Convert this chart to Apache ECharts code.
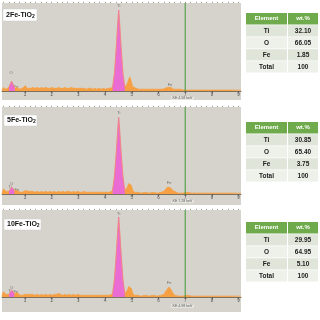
<!DOCTYPE html>
<html><head><meta charset="utf-8">
<script src="https://cdn.jsdelivr.net/npm/echarts@6/dist/echarts.min.js"></script>
<style>html,body{margin:0;padding:0;background:#fff}#c{width:320px;height:320px}</style>
</head><body><div id="c"></div><script>
// ---- data ----
const sampleNames = ['2Fe-TiO', '5Fe-TiO', '10Fe-TiO'];
const sampleSub = '2';
const elements = ['Ti', 'O', 'Fe', 'Total'];
const tableHeader = ['Element', 'wt.%'];
const wt1 = ['32.10', '66.05', '1.85', '100'];
const wt2 = ['30.85', '65.40', '3.75', '100'];
const wt3 = ['29.95', '64.95', '5.10', '100'];
const tickKeV = [1, 2, 3, 4, 5, 6, 7, 8, 9];
const markerKeV = 7;
const markerText = ['KE 4.58 keV', 'KE 7.28 keV', 'KE 4.98 keV'];
const oRange = [0.40, 0.62];
const tiRange = [4.28, 4.74];
// spectra: [energy keV, counts (arb.)]
const spec1 = [[0.14,1],[0.2,4],[0.24,5],[0.28,2],[0.34,2],[0.4,4],[0.45,8],[0.5,11],[0.54,10],[0.58,6],[0.62,3],[0.67,3],[0.71,4],[0.76,2],[0.82,2],[0.9,3],[0.96,5],[1.02,6],[1.08,3],[1.15,4],[1.22,3],[1.3,4],[1.38,3],[1.46,4],[1.54,3],[1.62,4],[1.7,3],[1.78,4],[1.86,3],[1.94,3],[2.02,4],[2.1,3],[2.18,3],[2.26,4],[2.34,3],[2.42,3],[2.5,4],[2.58,3],[2.66,3],[2.74,4],[2.82,3],[2.9,3],[2.98,3],[3.06,3],[3.14,3],[3.22,3],[3.3,2],[3.38,3],[3.46,3],[3.54,2],[3.62,3],[3.7,2],[3.78,3],[3.86,2],[3.94,3],[4.02,2],[4.1,3],[4.18,3],[4.24,3],[4.28,4],[4.35,20],[4.42,50],[4.47,75],[4.51,92],[4.55,75],[4.6,50],[4.67,20],[4.74,4],[4.79,5],[4.84,9],[4.88,13],[4.93,16],[4.98,11],[5.03,5],[5.08,3],[5.16,3],[5.25,2],[5.35,2],[5.45,2],[5.55,2],[5.65,2],[5.75,2],[5.85,2],[5.95,2],[6.05,2],[6.15,2],[6.25,3],[6.33,4],[6.4,5],[6.47,4],[6.55,2],[6.65,2],[6.8,2],[6.95,1],[7.1,1],[7.3,1],[7.5,1],[7.8,1],[8.1,1],[8.4,1],[8.7,1],[9.09,1]];
const spec2 = [[0.14,1],[0.2,6],[0.24,7],[0.28,3],[0.34,2],[0.4,3],[0.45,5],[0.5,8],[0.55,7],[0.6,4],[0.65,2],[0.7,4],[0.75,3],[0.82,2],[0.9,2],[0.96,3],[1.02,4],[1.08,2],[1.15,3],[1.22,2],[1.3,3],[1.38,2],[1.46,3],[1.54,2],[1.62,3],[1.7,2],[1.78,3],[1.86,2],[1.94,3],[2.02,2],[2.1,3],[2.18,2],[2.26,3],[2.34,2],[2.42,3],[2.5,2],[2.58,3],[2.66,3],[2.74,2],[2.82,3],[2.9,2],[2.98,3],[3.06,2],[3.14,2],[3.22,3],[3.3,2],[3.38,2],[3.46,2],[3.54,2],[3.62,2],[3.7,2],[3.78,2],[3.86,2],[3.94,2],[4.02,2],[4.1,2],[4.18,2],[4.24,3],[4.28,4],[4.35,20],[4.42,48],[4.47,72],[4.51,88],[4.55,72],[4.6,48],[4.67,20],[4.74,4],[4.79,4],[4.84,8],[4.88,12],[4.93,14],[4.98,10],[5.03,5],[5.08,2],[5.2,2],[5.35,1],[5.5,2],[5.65,1],[5.8,2],[5.95,1],[6.1,2],[6.2,3],[6.27,5],[6.34,8],[6.4,9],[6.46,7],[6.53,4],[6.6,2],[6.75,1],[6.9,1],[7.05,2],[7.12,2],[7.25,1],[7.5,1],[7.8,1],[8.1,1],[8.4,1],[8.7,1],[9.09,1]];
const spec3 = [[0.14,1],[0.19,6],[0.24,8],[0.29,3],[0.34,2],[0.4,3],[0.45,5],[0.5,8],[0.55,7],[0.6,4],[0.65,3],[0.7,5],[0.75,3],[0.82,2],[0.9,2],[0.96,3],[1.02,3],[1.08,2],[1.15,3],[1.22,2],[1.3,3],[1.38,2],[1.46,3],[1.54,2],[1.62,3],[1.7,2],[1.78,3],[1.86,2],[1.94,3],[2.02,2],[2.1,3],[2.18,3],[2.26,4],[2.34,3],[2.42,2],[2.5,3],[2.58,2],[2.66,3],[2.74,2],[2.82,3],[2.9,2],[2.98,3],[3.06,2],[3.14,2],[3.22,2],[3.3,2],[3.38,2],[3.46,2],[3.54,2],[3.62,2],[3.7,2],[3.78,2],[3.86,2],[3.94,2],[4.02,2],[4.1,2],[4.18,2],[4.24,3],[4.28,4],[4.35,20],[4.42,50],[4.47,74],[4.51,92],[4.55,74],[4.6,50],[4.67,20],[4.74,4],[4.79,4],[4.84,8],[4.88,12],[4.93,14],[4.98,10],[5.03,5],[5.08,2],[5.2,2],[5.35,1],[5.5,2],[5.65,1],[5.8,2],[5.95,1],[6.1,2],[6.2,3],[6.26,6],[6.33,9],[6.4,11.5],[6.46,9],[6.53,5],[6.6,2],[6.75,1],[6.9,1],[7.05,2],[7.12,2],[7.25,1],[7.5,1],[7.8,1],[8.1,1],[8.4,1],[8.7,1],[9.09,1]];
const tagNames1 = ['O', 'Fe', 'Ti', 'Fe'];
const tagKeV1 = [0.48, 0.66, 4.51, 6.43];
const tagLevel1 = [21, 4.5, 97, 7];
const tagNames2 = ['O', 'Ti', 'Fe', 'Ti', 'Fe'];
const tagKeV2 = [0.51, 0.44, 0.70, 4.51, 6.40];
const tagLevel2 = [12, 8, 4.6, 93, 13];
const tagNames3 = ['O', 'Ti', 'Fe', 'Ti', 'Fe'];
const tagKeV3 = [0.51, 0.44, 0.66, 4.51, 6.40];
const tagLevel3 = [11, 7, 6, 95, 16];

// ---- layout / style ----
const ORANGE = '#f6a043', PINK = '#ea6bd3', GRAY = '#d6d3cc', GREEN = '#3f9a34';
const panels = [
  { top: 3, h: 88, boxTop: 3, boxH: 97, spec: spec1, wt: wt1, tN: tagNames1, tK: tagKeV1, tL: tagLevel1, lbl: [3, 9, 34, 12], tblTop: 13 },
  { top: 107, h: 87, boxTop: 107, boxH: 98, spec: spec2, wt: wt2, tN: tagNames2, tK: tagKeV2, tL: tagLevel2, lbl: [4, 115, 33, 11], tblTop: 122 },
  { top: 210, h: 87, boxTop: 210, boxH: 102, spec: spec3, wt: wt3, tN: tagNames3, tK: tagKeV3, tL: tagLevel3, lbl: [4, 219, 37, 11], tblTop: 222 }
];
const X0 = 0.14, X1 = 9.09;
const minorKeV = [];
for (let k = 1; k <= 45; k++) minorKeV.push(+(k * 0.2).toFixed(1));

const grid = [], xAxis = [], yAxis = [], series = [], graphic = [];
panels.forEach((p, i) => {
  grid.push({ left: 2, width: 239, top: p.top, height: p.h });
  xAxis.push({
    gridIndex: i, type: 'value', min: X0, max: X1,
    axisLine: { show: true, lineStyle: { color: '#7d705c', width: 1 } },
    axisTick: { show: true, customValues: tickKeV, length: 2.5, lineStyle: { color: '#555', width: 0.8 } },
    axisLabel: { show: true, customValues: tickKeV, fontSize: 4.5, color: '#555', margin: 1.5, fontFamily: 'Liberation Sans' },
    splitLine: { show: false }
  });
  xAxis.push({
    gridIndex: i, type: 'value', min: X0, max: X1,
    axisLine: { show: false },
    axisTick: { show: true, customValues: minorKeV, length: 1.2, lineStyle: { color: '#6a604f', width: 0.6 } },
    axisLabel: { show: false }, splitLine: { show: false }
  });
  yAxis.push({ gridIndex: i, type: 'value', min: 0, max: 100, show: false });
  const base = { type: 'line', xAxisIndex: 2 * i, yAxisIndex: i, symbol: 'none', silent: true, animation: false };
  series.push(Object.assign({}, base, {
    data: p.spec, lineStyle: { color: ORANGE, width: 0.8 }, areaStyle: { color: ORANGE, opacity: 1 }
  }));
  series.push(Object.assign({}, base, {
    data: p.spec.filter(d => d[0] >= oRange[0] && d[0] <= oRange[1]),
    lineStyle: { color: PINK, width: 0.5 }, areaStyle: { color: PINK, opacity: 1 }
  }));
  series.push(Object.assign({}, base, {
    data: p.spec.filter(d => d[0] >= tiRange[0] && d[0] <= tiRange[1]),
    lineStyle: { color: PINK, width: 0.5 }, areaStyle: { color: PINK, opacity: 1 }
  }));
  // marker cursor line
  series.push(Object.assign({}, base, {
    data: [[markerKeV, 0], [markerKeV, 100]], z: 5,
    lineStyle: { color: GREEN, width: 1, opacity: 1 }
  }));
  series.push({
    type: 'scatter', xAxisIndex: 2 * i, yAxisIndex: i, symbolSize: 0, silent: true, animation: false,
    data: p.tN.map((n, j) => ({ name: n, value: [p.tK[j], p.tL[j]] })),
    label: { show: true, position: 'inside', formatter: '{b}', fontSize: 4, color: '#555', fontFamily: 'Liberation Sans' }
  });
  // panel background
  graphic.push({ type: 'rect', z: -10, shape: { x: 2, y: p.boxTop, width: 239, height: p.boxH }, style: { fill: GRAY } });
  // sample label box
  graphic.push({ type: 'rect', z: 100, shape: { x: p.lbl[0], y: p.lbl[1], width: p.lbl[2], height: p.lbl[3] }, style: { fill: '#fff', stroke: '#c8c8c8', lineWidth: 0.5 } });
  graphic.push({ type: 'text', z: 101, x: p.lbl[0] + 3, y: p.lbl[1] + p.lbl[3] / 2,
    style: { text: sampleNames[i] + '{s|' + sampleSub + '}', fontSize: 7, fontWeight: 'bold', fontFamily: 'Liberation Sans', fill: '#111', verticalAlign: 'middle',
      rich: { s: { fontSize: 5, fontWeight: 'bold', fontFamily: 'Liberation Sans', fill: '#111', padding: [3, 0, 0, 0] } } } });
  // marker readout box
  const axisY = p.top + p.h;
  graphic.push({ type: 'rect', z: 100, shape: { x: 171, y: axisY + (i === 2 ? 7 : 5), width: 23, height: 4 }, style: { fill: '#e6e4df' } });
  graphic.push({ type: 'text', z: 101, x: 182.5, y: axisY + (i === 2 ? 9 : 7),
    style: { text: markerText[i], fontSize: 3.6, fontFamily: 'Liberation Sans', fill: '#555', align: 'center', verticalAlign: 'middle' } });
  // table
  const tx = 246, c1 = 41, c2 = 30, hh = 11.5, rh = 12;
  const top = p.tblTop;
  graphic.push({ type: 'rect', z: 50, shape: { x: tx, y: top, width: c1, height: hh }, style: { fill: '#6faa4c' } });
  graphic.push({ type: 'rect', z: 50, shape: { x: tx + c1 + 1, y: top, width: c2, height: hh }, style: { fill: '#6faa4c' } });
  tableHeader.forEach((t, k) => graphic.push({ type: 'text', z: 51, x: k === 0 ? tx + c1 / 2 : tx + c1 + 1 + c2 / 2, y: top + hh / 2,
    style: { text: t, fontSize: 6, fontWeight: 'bold', fontFamily: 'Liberation Sans', fill: '#fff', align: 'center', verticalAlign: 'middle' } }));
  elements.forEach((el, r) => {
    const y = top + hh + 0.7 + r * rh;
    const fill = r % 2 === 0 ? '#dfe5d9' : '#eef1ea';
    graphic.push({ type: 'rect', z: 50, shape: { x: tx, y: y, width: c1, height: rh - 0.7 }, style: { fill } });
    graphic.push({ type: 'rect', z: 50, shape: { x: tx + c1 + 1, y: y, width: c2, height: rh - 0.7 }, style: { fill } });
    graphic.push({ type: 'text', z: 51, x: tx + c1 / 2, y: y + rh / 2,
      style: { text: el, fontSize: 6.5, fontWeight: 'bold', fontFamily: 'Liberation Sans', fill: '#222', align: 'center', verticalAlign: 'middle' } });
    graphic.push({ type: 'text', z: 51, x: tx + c1 + 1 + c2 / 2, y: y + rh / 2,
      style: { text: p.wt[r], fontSize: 6.5, fontWeight: 'bold', fontFamily: 'Liberation Sans', fill: '#222', align: 'center', verticalAlign: 'middle' } });
  });
});

const chart = echarts.init(document.getElementById('c'), null, { renderer: 'canvas' });
chart.setOption({ animation: false, backgroundColor: '#fff', grid, xAxis, yAxis, series, graphic });
</script></body></html>
